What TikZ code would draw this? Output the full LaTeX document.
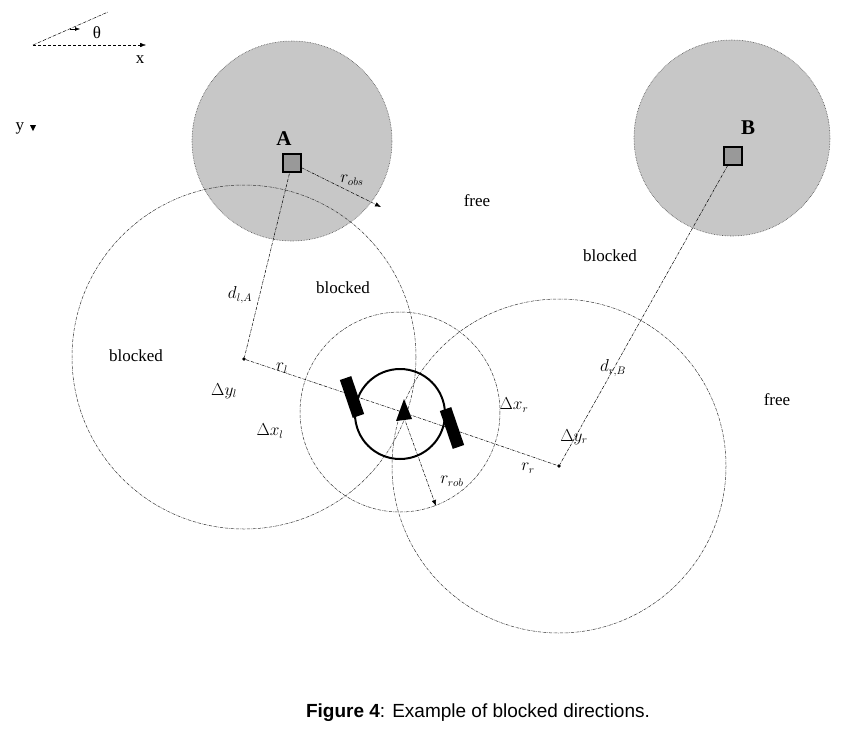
\documentclass[tikz,border=0pt]{standalone}
\usepackage{fontspec}
\setmainfont{Liberation Serif}
\newfontfamily\capfont{Liberation Sans}
\usetikzlibrary{arrows.meta}
\begin{document}
\begin{tikzpicture}[x=1pt,y=-1pt,
  thin/.style={line width=0.5pt,densely dashdotted},
  obst/.style={fill=black!22,draw=black!70,densely dotted,line width=0.6pt},
  big/.style={draw=black!80,line width=0.5pt,densely dashdotted},
  lab/.style={font=\fontsize{17}{19}\selectfont},
  ml/.style={font=\fontsize{16}{18}\selectfont},
  box/.style={draw=black,line width=2.5pt,fill=black!40,minimum size=18pt,inner sep=0},
  dot/.style={circle,fill=black,inner sep=1.3pt}]
\useasboundingbox (0,0) rectangle (849,737);
% obstacles
\draw[obst] (292,141) circle (100);
\draw[obst] (732,138) circle (98);
% big circles
\draw[big] (244,357) circle (172);
\draw[big] (559,466) circle (167);
\draw[big] (400,412) circle (100);
% robot
\draw[line width=2pt] (400,414) circle (45);
\node[dot] (L) at (244,359) {};
\node[dot] (R) at (559,466) {};
\coordinate (C) at (402,412);
\coordinate (Ac) at (292,163);
\coordinate (Bc) at (733,156);
\fill[rotate around={18.8:(352,397)}] (346,377) rectangle (358,417);
\fill[rotate around={18.8:(452,428)}] (446,408) rectangle (458,448);
\fill (404,399) -- (396,421) -- (412,419) -- cycle;
\draw[thin] (Ac) -- (L);
\draw[thin] (Bc) -- (R);
\draw[thin] (L) -- (C) -- (R);
\coordinate (ao) at (381,207);
\draw[thin,-{Latex[length=6pt]}] (Ac) -- (ao);
\coordinate (ro) at (436,506);
\draw[thin,-{Latex[length=6pt]}] (C) -- (ro);
\node[box] (A) at (Ac) {};
\node[box] (B) at (Bc) {};
% axes
\coordinate (O) at (33,45);
\coordinate (X) at (146,45);
\coordinate (T) at (108,12);
\draw[densely dashed,-{Latex[length=6pt]}] (O) -- (X);
\draw[thin] (O) -- (T);
\draw[-{Latex[length=5pt]}] (70,29) -- (80,29);
\node[lab] (th) at (97,33) {θ};
\node[lab] (xl) at (140,60) {x};
\node[lab] (yl) at (20,128) {y};
\fill (30,125) -- (36,125) -- (33,131) -- cycle;
% labels
\node[font=\bfseries\fontsize{21}{23}\selectfont] (Al) at (284,139) {A};
\node[font=\bfseries\fontsize{21}{23}\selectfont] (Bl) at (748,128) {B};
\node[lab] (f1) at (477,201) {free};
\node[lab] (f2) at (777,400) {free};
\node[lab] (b1) at (610,256) {blocked};
\node[lab] (b2) at (343,288) {blocked};
\node[lab] (b3) at (136,356) {blocked};
\node[ml] (dla) at (240,295) {$d_{l,A}$};
\node[ml] (rl) at (282,368) {$r_l$};
\node[ml] (dyl) at (224,391) {$\Delta y_l$};
\node[ml] (dxl) at (270,431) {$\Delta x_l$};
\node[ml] (dxr) at (514,405) {$\Delta x_r$};
\node[ml] (dyr) at (574,437) {$\Delta y_r$};
\node[ml] (drb) at (613,368) {$d_{r,B}$};
\node[ml] (rr) at (528,468) {$r_r$};
\node[ml] (rrob) at (452,481) {$r_{rob}$};
\node[ml] (robs) at (352,180) {$r_{obs}$};
\node[font=\capfont\fontsize{19}{22}\selectfont] (cap) at (478,713) {\textbf{Figure 4}: Example of blocked directions.};
\end{tikzpicture}
\end{document}
